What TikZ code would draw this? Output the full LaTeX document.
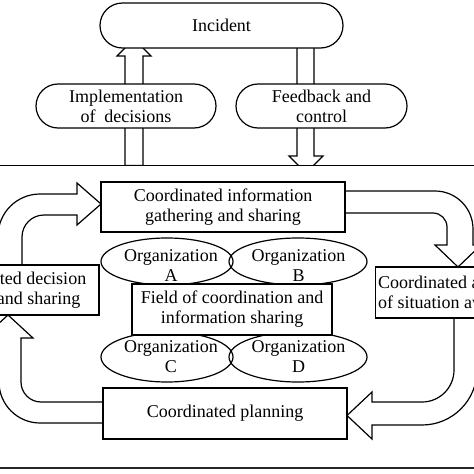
\documentclass[tikz,border=0pt]{standalone}
\usepackage{fontspec}
\setmainfont{Liberation Serif}
\usetikzlibrary{shapes.geometric}
\begin{document}
\begin{tikzpicture}[x=1pt,y=-1pt,
  ln/.style={line width=1.2pt, draw=black},
  txt/.style={font=\fontsize{18}{20}\selectfont, align=center, inner sep=0pt},
  pill/.style={ln, fill=white, rectangle, rounded corners=22pt, minimum height=44pt, inner sep=0pt, font=\fontsize{18}{20}\selectfont, align=center},
  box/.style={ln, fill=white, rectangle, inner sep=0pt, font=\fontsize{18}{20}\selectfont, align=center},
  org/.style={ln, ellipse, inner sep=0pt},
  blockarrow/.style={ln, fill=white, line join=miter}]
\useasboundingbox (0,0) rectangle (474,474);
\clip (0,0) rectangle (474,474);
% vertical block arrows
\draw[blockarrow] (125,165.5) -- (125,56) -- (117,56) -- (134,39) -- (151,56) -- (143,56) -- (143,165.5) -- cycle;
\draw[blockarrow] (297,40) -- (297,156) -- (289,156) -- (306,173) -- (323,156) -- (314,156) -- (314,40) -- cycle;
% frame
\fill[white] (-5,165.5) rectangle (480,468);
\draw[ln] (-5,165.5) -- (480,165.5);
\draw[line width=1.6pt, draw=black!85] (-5,468) -- (480,468);
% pills
\node[pill, minimum width=243pt, minimum height=45pt, rounded corners=22.5pt] (incident) at (221.5,25.5) {Incident};
\node[pill, minimum width=180pt] (impl) at (126,106) {Implementation\\of~ decisions};
\node[pill, minimum width=171pt] (feed) at (321.5,106) {Feedback and\\control};
% curved block arrows
\draw[blockarrow] (22,265) -- (22,237) .. controls (22,224.8) and (31.8,215) .. (44,215) -- (77,215) -- (77,225) -- (101,204) -- (77,183) -- (77,194) -- (40,194) .. controls (16.8,194) and (-2,212.8) .. (-2,236) -- (-2,265) -- cycle;
\draw[blockarrow] (345,191) -- (435,191) .. controls (456,191) and (473,208) .. (473,229) -- (473,245) -- (481,245) -- (458,267) -- (435,245) -- (447,245) -- (447,227) .. controls (447,219.3) and (440.7,213) .. (433,213) -- (345,213) -- cycle;
\draw[blockarrow] (454,318) -- (454,370) .. controls (454,387.7) and (439.7,402) .. (422,402) -- (372,402) -- (372,392) -- (347,415.5) -- (372,439) -- (372,425) -- (422,425) .. controls (452.4,425) and (477,400.4) .. (477,370) -- (477,318) -- cycle;
\draw[blockarrow] (103,402) -- (41,402) .. controls (30,402) and (21,393) .. (21,382) -- (21,338) -- (33,338) -- (8,315) -- (-17,338) -- (-1,338) -- (-1,382) .. controls (-1,404.6) and (17.4,423) .. (40,423) -- (103,423) -- cycle;
% boxes
\node[box, minimum width=244pt, minimum height=50pt] (info) at (223,207) {Coordinated information\\gathering and sharing};
\node[box, minimum width=179pt, minimum height=50pt] (decision) at (9.5,290) {Coordinated decision\\making and sharing};
\node[box, anchor=west, minimum height=51pt, inner xsep=2.5pt, align=left] (situation) at (375,292.5) {Coordinated analysis\\of situation awareness};
\node[box, minimum width=244pt, minimum height=51pt] (planning) at (225,413.5) {Coordinated planning};
% organizations
\node[org, minimum width=132pt, minimum height=47pt] (orgA) at (167,261.5) {};
\node[org, minimum width=138pt, minimum height=47pt] (orgB) at (298,261.5) {};
\node[org, minimum width=132pt, minimum height=50pt] (orgC) at (167,357) {};
\node[org, minimum width=138pt, minimum height=50pt] (orgD) at (298,357) {};
\node[box, minimum width=200pt, minimum height=51pt] (field) at (232,309.5) {Field of coordination and\\information sharing};
\node[txt] (tA) at (171,266) {Organization\\A};
\node[txt] (tB) at (298.5,266) {Organization\\B};
\node[txt] (tC) at (171,356.5) {Organization\\C};
\node[txt] (tD) at (298.5,356.5) {Organization\\D};
\end{tikzpicture}
\end{document}
